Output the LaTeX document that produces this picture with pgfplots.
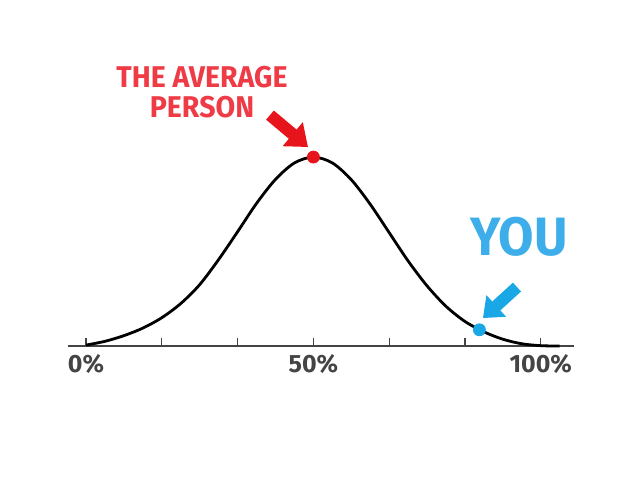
\documentclass[border=0pt]{standalone}
\usepackage{fontspec}
\setmainfont{Fira Sans}
\usepackage{pgfplots}
\pgfplotsset{compat=1.18}
\usetikzlibrary{arrows.meta}

\definecolor{avgred}{HTML}{E8141C}
\definecolor{txtred}{HTML}{EE3B46}
\definecolor{youblue}{HTML}{1AA7E5}
\definecolor{txtblue}{HTML}{3DAEE9}
\definecolor{axgray}{HTML}{444444}

\begin{document}
\begin{tikzpicture}
\begin{axis}[
  x=37.9pt, y=94.5pt,
  xmin=-0.24, xmax=6.44, ymin=0, ymax=1.05,
  axis x line*=bottom, axis y line=none,
  x axis line style={axgray, line width=1pt},
  xtick={0,...,6}, xticklabels={0\%,,,50\%,,,100\%},
  tick align=inside, major tick length=4pt,
  x tick style={axgray, line width=0.6pt},
  xticklabel style={font=\bfseries\fontsize{12.5}{14}\selectfont, text=axgray, inner sep=0pt, yshift=-4pt},
  /pgf/number format/assume math mode=true,
  ytick=\empty,
  clip=false,
]
% the bell curve
\addplot[black, line width=1.4pt, smooth] coordinates {
  (0,0.005) (0.25,0.025) (0.5,0.055) (0.75,0.095) (1,0.150) (1.25,0.225)
  (1.5,0.325) (1.75,0.458) (2,0.605) (2.25,0.755) (2.5,0.882) (2.75,0.969)
  (3,1.000) (3.25,0.969) (3.5,0.880) (3.75,0.750) (4,0.600) (4.25,0.450)
  (4.5,0.318) (4.75,0.210) (5,0.130) (5.25,0.075) (5.5,0.036) (5.75,0.012)
  (6,0.002) (6.25,0.000)
};
% the two people
\addplot[only marks, mark=*, mark size=3pt, avgred] coordinates {(3,1)};
\addplot[only marks, mark=*, mark size=3pt, youblue] coordinates {(5.19,0.086)};

\draw[avgred, line width=6pt, -{Triangle[width=15pt,length=10pt]}]
  (axis cs:2.427,1.222) -- (axis cs:2.929,1.053);
\draw[youblue, line width=6pt, -{Triangle[width=14pt,length=9pt]}]
  (axis cs:5.686,0.312) -- (axis cs:5.237,0.148);

\node[txtred, align=center, font=\bfseries\fontsize{15}{15}\selectfont, xscale=0.95]
  at (axis cs:1.53,1.344) {THE AVERAGE\\PERSON};
\node[txtblue, font=\bfseries\fontsize{27}{28}\selectfont, xscale=0.95]
  at (axis cs:5.712,0.577) {YOU};

\coordinate (bl) at (axis cs:-1.135,-0.709);
\coordinate (tr) at (axis cs:7.309,1.831);
\end{axis}
\pgfresetboundingbox
\path[use as bounding box] (bl) rectangle (tr);
\end{tikzpicture}
\end{document}
